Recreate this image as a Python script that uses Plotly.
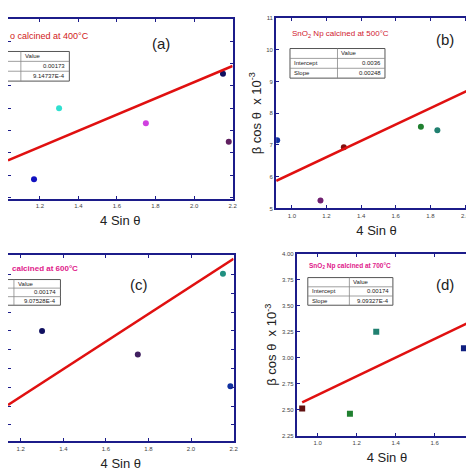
import plotly.graph_objects as go

W = H = 474
# Panel (a)
a_x = [1.17, 1.30, 1.75, 2.15, 2.18]
a_y = [4.82, 8.0, 7.33, 9.54, 6.5]
a_col = ["#1010c0", "#30e0d0", "#d040e0", "#101060", "#602060"]
a_fit_x = [1.035, 2.2]; a_fit_y = [5.66, 9.89]
# Panel (b)
b_x = [0.915, 1.165, 1.30, 1.745, 1.84, 2.055]
b_y = [7.15, 5.25, 6.93, 7.57, 7.46, 7.78]
b_col = ["#1030a0", "#702070", "#801010", "#208030", "#208070", "#102080"]
b_fit_x = [0.91, 2.069]; b_fit_y = [5.87, 8.85]
# Panel (c)
c_x = [1.30, 1.75, 2.15, 2.185]
c_y = [5.0, 3.74, 8.05, 2.05]
c_col = ["#101060", "#402060", "#209080", "#1030a0"]
c_fit_x = [1.14, 2.2]; c_fit_y = [1.05, 8.84]
# Panel (d)
d_x = [0.92, 1.165, 1.30, 1.75]
d_y = [2.51, 2.46, 3.25, 3.09]
d_col = ["#601010", "#208030", "#208070", "#102080"]
d_fit_x = [0.92, 1.82]; d_fit_y = [2.57, 3.38]

def px(x): return x / W
def py(y): return 1 - y / H

fig = go.Figure()
panels = [
    ("", a_x, a_y, a_col, a_fit_x, a_fit_y, "circle", (0, 227), (8, 190), [1.035, 2.2], [3.95, 12.0]),
    ("2", b_x, b_y, b_col, b_fit_x, b_fit_y, "circle", (271, 474), (7, 200), [0.909, 2.069], [5, 11]),
    ("3", c_x, c_y, c_col, c_fit_x, c_fit_y, "circle", (0, 228), (247, 436), [1.14, 2.2], [-0.89, 9.05]),
    ("4", d_x, d_y, d_col, d_fit_x, d_fit_y, "square", (292, 474), (246, 430), [0.893, 1.817], [2.25, 4.0]),
]
axcol = "#1c1c8a"
for i, (s, xs, ys, cols, fx, fy, sym, xd, yd, xr, yr) in enumerate(panels):
    fig.add_trace(go.Scatter(x=xs, y=ys, mode="markers", marker=dict(color=cols, size=6, symbol=sym),
                             xaxis="x" + s, yaxis="y" + s, showlegend=False))
    fig.add_trace(go.Scatter(x=fx, y=fy, mode="lines", line=dict(color="#e01010", width=2.5),
                             xaxis="x" + s, yaxis="y" + s, showlegend=False))
    showy = i in (1, 3)
    fig.layout["xaxis" + s] = dict(domain=[px(xd[0]), px(xd[1])], range=xr, anchor="y" + s,
        showgrid=False, zeroline=False, showline=True, linecolor=axcol, linewidth=2, mirror="ticks",
        ticks="inside", ticklen=3, tickcolor=axcol, dtick=0.2, tickformat=".1f",
        tickfont=dict(size=6, family="Arial", color="#444"),
        title=dict(text="4 Sin θ", font=dict(size=13, family="Arial", color="#222"), standoff=8))
    ydict = dict(domain=[py(yd[1]), py(yd[0])], range=yr, anchor="x" + s,
        showgrid=False, zeroline=False, showline=True, linecolor=axcol, linewidth=2, mirror="ticks",
        ticks="inside", ticklen=3, tickcolor=axcol, showticklabels=showy,
        tickfont=dict(size=6, family="Arial", color="#444"))
    if i == 1:
        ydict.update(dtick=1, title=dict(text="β cos θ  x 10<sup>-3</sup>", font=dict(size=13, family="Arial", color="#222"), standoff=2))
    elif i == 3:
        ydict.update(dtick=0.25, tickformat=".2f", title=dict(text="β cos θ  x 10<sup>-3</sup>", font=dict(size=13, family="Arial", color="#222"), standoff=2))
    else:
        ydict.update(dtick=1)
    fig.layout["yaxis" + s] = ydict

ann = []
shapes = []
def txt(x, y, t, size, color="#222", xanchor="left", bold=False):
    ann.append(dict(x=px(x), y=py(y), xref="paper", yref="paper", text=("<b>%s</b>" % t) if bold else t,
                    showarrow=False, xanchor=xanchor, yanchor="middle",
                    font=dict(size=size, color=color, family="Arial")))

def table(x0, x1, y0, y1, xm, inter, slope, labels=True):
    shapes.append(dict(type="rect", xref="paper", yref="paper", x0=px(x0), x1=px(x1), y0=py(y1), y1=py(y0),
                       line=dict(color="#555", width=1), fillcolor="white"))
    h = (y1 - y0) / 3
    for k in (1, 2):
        shapes.append(dict(type="line", xref="paper", yref="paper", x0=px(x0), x1=px(x1),
                           y0=py(y0 + k * h), y1=py(y0 + k * h), line=dict(color="#888", width=0.8)))
    shapes.append(dict(type="line", xref="paper", yref="paper", x0=px(xm), x1=px(xm), y0=py(y0), y1=py(y1),
                       line=dict(color="#888", width=0.8)))
    txt(xm + 2, y0 + h / 2, "Value", 6)
    txt(x1 - 2, y0 + 1.5 * h, inter, 6, xanchor="right")
    txt(x1 - 2, y0 + 2.5 * h, slope, 6, xanchor="right")
    if labels:
        txt(x0 + 2, y0 + 1.5 * h, "Intercept", 6)
        txt(x0 + 2, y0 + 2.5 * h, "Slope", 6)

txt(0, 25, "o calcined at 400°C", 9, "#d02020")
txt(155, 33, "(a)", 15, xanchor="center")
table(-2, 62, 41, 71, 13, "0.00173", "9.14737E-4", labels=False)

txt(285, 23, "SnO<sub>2</sub> Np calcined at 500°C", 8, "#d02030")
txt(442, 29, "(b)", 15, xanchor="center")
table(285, 381, 38, 68, 333, "0.0036", "0.00248")

txt(2, 261, "calcined at 600°C", 8, "#e0208a", bold=True)
txt(132, 277, "(c)", 15, xanchor="center")
table(-2, 53, 272, 298, 6, "0.00174", "9.07528E-4", labels=False)

txt(302, 258, "SnO<sub>2</sub> Np calcined at 700°C", 6.5, "#e0208a", bold=True)
txt(442, 277, "(d)", 15, xanchor="center")
table(303, 389, 270, 298, 345, "0.00174", "9.09327E-4")

fig.update_layout(width=W, height=H, margin=dict(l=0, r=0, t=0, b=0), paper_bgcolor="white",
                  plot_bgcolor="white", annotations=ann, shapes=shapes)
fig.write_html("out.html")
